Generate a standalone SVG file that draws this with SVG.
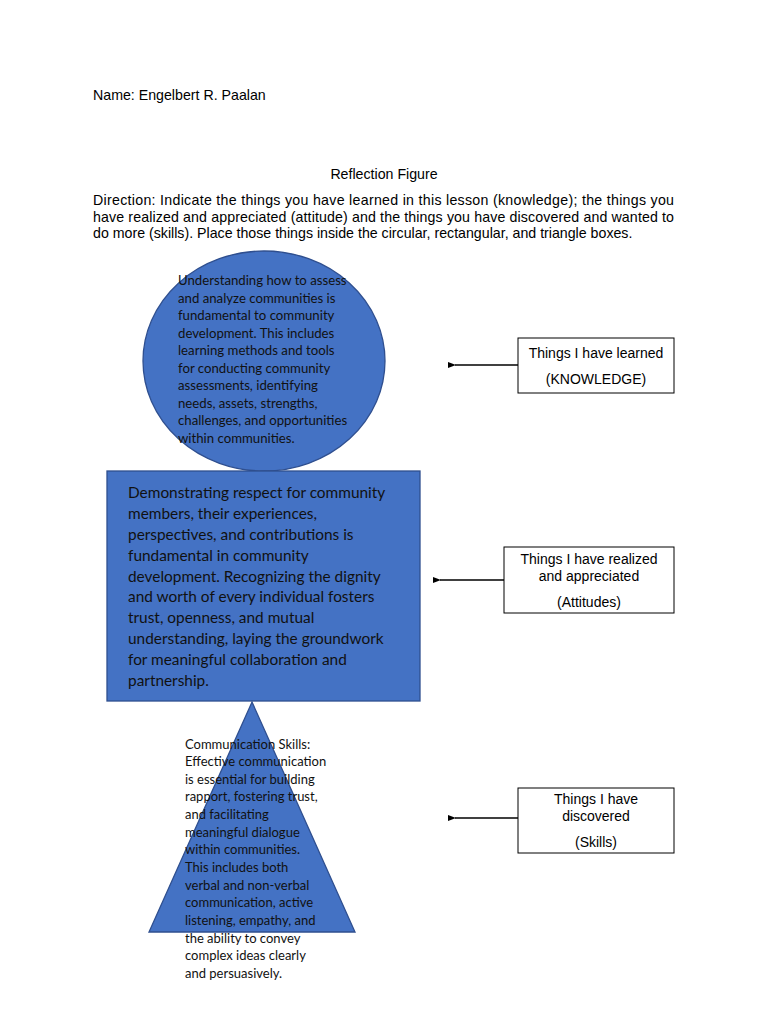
<svg xmlns="http://www.w3.org/2000/svg" width="768" height="1024" viewBox="0 0 768 1024">
<style>
.t{font-family:"Liberation Sans",Arial,sans-serif;font-size:14px;fill:#000}
.h{font-size:14.2px}
.c{text-anchor:middle}
.s{font-family:Lato,"Open Sans",sans-serif;fill:#111}
.shape{fill:#4472C4;stroke:#2F4F8F;stroke-width:1.3}
.box{fill:#fff;stroke:#000;stroke-width:1}
.ln{stroke:#000;stroke-width:1.5;fill:none}
</style>
<defs>
<marker id="ah" markerWidth="8" markerHeight="6" refX="1" refY="3" orient="auto-start-reverse" markerUnits="userSpaceOnUse">
<path d="M8,0 L0,3 L8,6 Z" fill="#000"/>
</marker>
</defs>
<rect width="768" height="1024" fill="#fff"/>
<g id="header">
<text class="t h" x="93" y="100">Name: Engelbert R. Paalan</text>
<text class="t h c" x="384" y="179">Reflection Figure</text>
<text class="t h" x="93" y="205" textLength="581" lengthAdjust="spacing">Direction: Indicate the things you have learned in this lesson (knowledge); the things you</text>
<text class="t h" x="93" y="222" textLength="581" lengthAdjust="spacing">have realized and appreciated (attitude) and the things you have discovered and wanted to</text>
<text class="t h" x="93" y="238">do more (skills). Place those things inside the circular, rectangular, and triangle boxes.</text>
</g>
<g id="knowledge-circle">
<ellipse class="shape" cx="264" cy="361" rx="121" ry="110"/>
<text class="s" font-size="13.2">
<tspan x="178" y="285">Understanding how to assess</tspan>
<tspan x="178" y="302.5">and analyze communities is</tspan>
<tspan x="178" y="320">fundamental to community</tspan>
<tspan x="178" y="337.5">development. This includes</tspan>
<tspan x="178" y="355">learning methods and tools</tspan>
<tspan x="178" y="372.5">for conducting community</tspan>
<tspan x="178" y="390">assessments, identifying</tspan>
<tspan x="178" y="407.5">needs, assets, strengths,</tspan>
<tspan x="178" y="425">challenges, and opportunities</tspan>
<tspan x="178" y="442.5">within communities.</tspan>
</text>
</g>
<g id="attitude-rect">
<rect class="shape" x="107" y="471" width="313" height="230"/>
<text class="s" font-size="15.4">
<tspan x="128" y="498">Demonstrating respect for community</tspan>
<tspan x="128" y="519">members, their experiences,</tspan>
<tspan x="128" y="540">perspectives, and contributions is</tspan>
<tspan x="128" y="560.5">fundamental in community</tspan>
<tspan x="128" y="581.5">development. Recognizing the dignity</tspan>
<tspan x="128" y="602">and worth of every individual fosters</tspan>
<tspan x="128" y="623">trust, openness, and mutual</tspan>
<tspan x="128" y="644">understanding, laying the groundwork</tspan>
<tspan x="128" y="665">for meaningful collaboration and</tspan>
<tspan x="128" y="686">partnership.</tspan>
</text>
</g>
<g id="skills-triangle">
<polygon class="shape" points="252,702 355,932 149,932"/>
<text class="s" font-size="13">
<tspan x="185" y="748.5">Communication Skills:</tspan>
<tspan x="185" y="766">Effective communication</tspan>
<tspan x="185" y="783.7">is essential for building</tspan>
<tspan x="185" y="801.4">rapport, fostering trust,</tspan>
<tspan x="185" y="819">and facilitating</tspan>
<tspan x="185" y="836.7">meaningful dialogue</tspan>
<tspan x="185" y="854.4">within communities.</tspan>
<tspan x="185" y="872">This includes both</tspan>
<tspan x="185" y="889.7">verbal and non-verbal</tspan>
<tspan x="185" y="907.4">communication, active</tspan>
<tspan x="185" y="925">listening, empathy, and</tspan>
<tspan x="185" y="942.7">the ability to convey</tspan>
<tspan x="185" y="960.4">complex ideas clearly</tspan>
<tspan x="185" y="978">and persuasively.</tspan>
</text>
</g>
<g id="box-knowledge">
<rect class="box" x="518" y="338" width="156" height="55"/>
<text class="t c" x="596" y="358">Things I have learned</text>
<text class="t c" x="596" y="384">(KNOWLEDGE)</text>
</g>
<g id="box-attitudes">
<rect class="box" x="504" y="547" width="170" height="66"/>
<text class="t c" x="589" y="564">Things I have realized</text>
<text class="t c" x="589" y="581">and appreciated</text>
<text class="t c" x="589" y="607">(Attitudes)</text>
</g>
<g id="box-skills">
<rect class="box" x="518" y="788" width="156" height="65"/>
<text class="t c" x="596" y="804">Things I have</text>
<text class="t c" x="596" y="821">discovered</text>
<text class="t c" x="596" y="847">(Skills)</text>
</g>
<g id="connectors">
<line class="ln" x1="518" y1="365" x2="455" y2="365" marker-end="url(#ah)"/>
<line class="ln" x1="504" y1="580" x2="440" y2="580" marker-end="url(#ah)"/>
<line class="ln" x1="518" y1="818" x2="455" y2="818" marker-end="url(#ah)"/>
</g>
</svg>
